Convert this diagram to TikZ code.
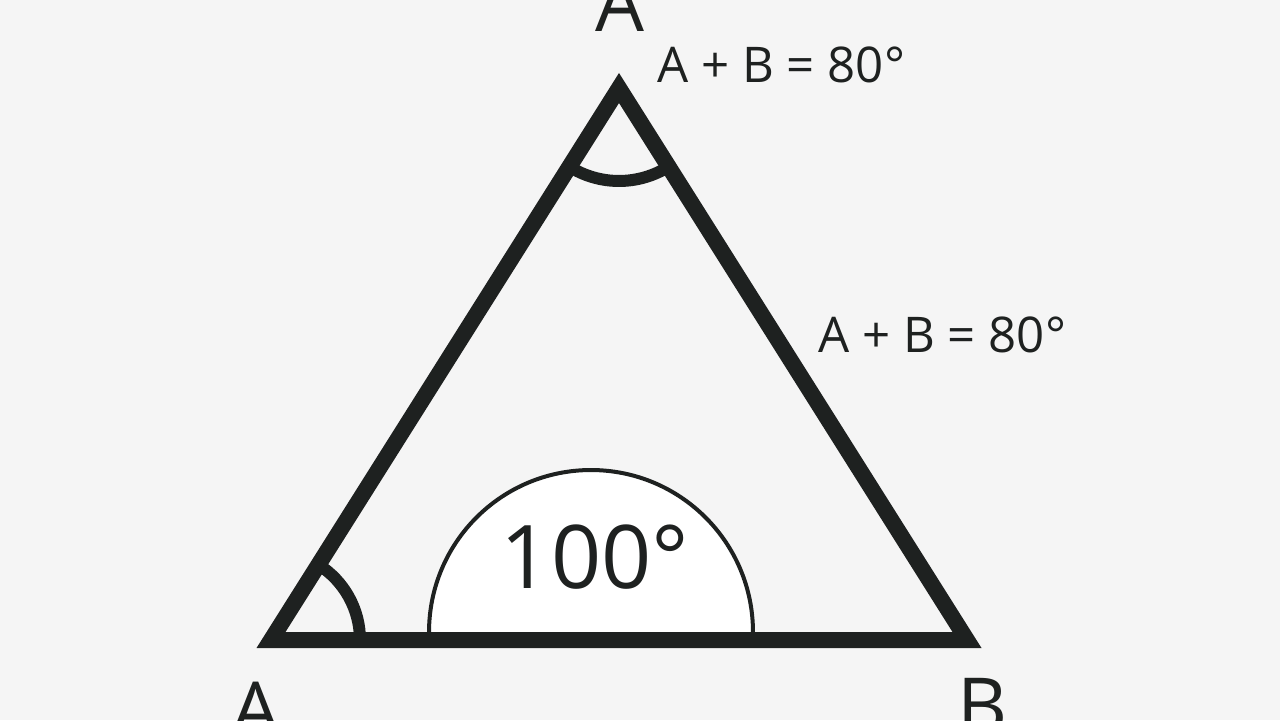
\documentclass[tikz,border=0pt]{standalone}
\usepackage{fontspec}
\setmainfont{Open Sans}
\definecolor{paper}{RGB}{245,245,245}
\definecolor{ink}{RGB}{30,33,32}
\begin{document}
\begin{tikzpicture}[x=0.02cm,y=0.02cm]
        \tikzstyle{sideline}=[draw=ink,line width=0.32cm,line join=miter]
        \tikzstyle{anglearc}=[draw=ink,line width=0.24cm]
        \tikzstyle{halfdisc}=[draw=ink,line width=0.08cm,fill=white]
        \tikzstyle{sumtext}=[text=ink,inner sep=0pt,anchor=base west,font=\fontsize{28}{34}\selectfont]
        \tikzstyle{vertex}=[text=ink,inner sep=0pt,anchor=base,font=\fontsize{44}{52}\selectfont]
       \fill[paper] (0,0) rectangle (1280,720);
       \useasboundingbox (0,0) rectangle (1280,720);
       \begin{scope}
         \coordinate (a) at (271,80);
         \coordinate (b) at (967,80);
         \coordinate (c) at (619,632);
         \coordinate (m) at (591,88);
         \path[halfdisc] ([shift={(180:3.24cm)}]m) arc (180:0:3.24cm);
         \draw[anglearc] ([shift={(0:1.78cm)}]a) arc (0:57.8:1.78cm);
         \draw[anglearc] ([shift={(237.8:1.86cm)}]c) arc (237.8:302.2:1.86cm);
         \draw[sideline] (a) -- (c) -- (b) -- cycle;
         \node [vertex] (la) at (620,688) {A};
         \node [vertex] (lb) at (256,-17) {A};
         \node [vertex] (lc) at (983,-13) {B};
         \node [sumtext] (sum1) at (657,637) {A + B = 80°};
         \node [sumtext] (sum2) at (818,367) {A + B = 80°};
         \node [vertex,font=\fontsize{50}{60}\selectfont] (deg) at (595,132) {100°};
       \end{scope}
\end{tikzpicture}
\end{document}
